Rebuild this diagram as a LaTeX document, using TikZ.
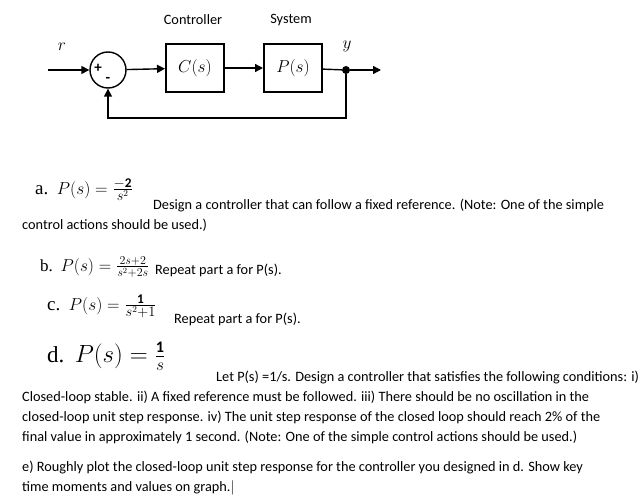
\documentclass[tikz,border=0pt]{standalone}
\usepackage{fontspec}
\setmainfont{Carlito}
\newfontfamily\serifeq{Liberation Serif}
\usetikzlibrary{arrows.meta}
\begin{document}
\begin{tikzpicture}[x=1pt,y=-1pt,
  blk/.style={draw,line width=2pt,minimum width=58pt,minimum height=48pt,inner sep=0pt,font=\fontsize{19}{19}\selectfont},
  sig/.style={line width=1.4pt,-{Triangle[length=8pt,width=8pt]}},
  body/.style={anchor=base west,inner sep=0pt,font=\fontsize{14.3}{14.3}\selectfont},
  eq/.style={anchor=base west,inner sep=0pt}]
\useasboundingbox (0,0) rectangle (643,503);
% block diagram
\node[draw,circle,line width=1.4pt,minimum size=36pt,inner sep=0pt] (sum) at (108,70) {};
\node[font=\fontsize{15}{15}\selectfont\bfseries] (plus) at (98,68) {+};
\node[font=\fontsize{15}{15}\selectfont\bfseries] (minus) at (108,80) {-};
\node[blk] (C) at (195,68) {$C(s)$};
\node[blk] (P) at (293,68) {$P(s)$};
\coordinate (in) at (48,70);
\node[circle,fill,inner sep=0pt,minimum size=8pt] (dot) at (346,70) {};
\coordinate (out) at (381,70);
\coordinate (fb1) at (346,118);
\coordinate (fb2) at (108,118);
\draw[sig] (in) -- (sum);
\draw[sig] (sum) -- (C);
\draw[sig] (C) -- (P);
\draw[line width=1.4pt] (P) -- (dot);
\draw[sig] (dot) -- (out);
\draw[sig] (dot) -- (fb1) -- (fb2) -- (sum);
\node[font=\fontsize{19}{19}\selectfont] (r) at (62,47) {$r$};
\node[font=\fontsize{19}{19}\selectfont] (y) at (347,46) {$y$};
\node[font=\fontsize{14.3}{14.3}\selectfont] (ct) at (193,20) {Controller};
\node[font=\fontsize{14.3}{14.3}\selectfont] (st) at (291,20) {System};
% text
\node[eq] (a) at (35,194) {\fontsize{19}{19}\selectfont {\serifeq a.}\ \ $P(s)=\frac{\mathbf{-2}}{s^2}$};
\node[body] (at) at (153,209) {Design a controller that can follow a fixed reference. (Note: One of the simple};
\node[body] (at2) at (22,229) {control actions should be used.)};
\node[eq] (b) at (40,271) {\fontsize{17}{17}\selectfont {\serifeq b.}\ \ $P(s)=\frac{2s+2}{s^2+2s}$};
\node[body] (bt) at (155,274) {Repeat part a for P(s).};
\node[eq] (c) at (47,310) {\fontsize{19}{19}\selectfont {\serifeq c.}\ \ $P(s)=\frac{\mathbf{1}}{s^2+1}$};
\node[body] (ct2) at (174,323) {Repeat part a for P(s).};
\node[eq] (d) at (47,362) {\fontsize{23}{23}\selectfont {\serifeq d.}\ \ $P(s)=\frac{\mathbf{1}}{s}$};
\node[body] (d1) at (216,381) {Let P(s) =1/s. Design a controller that satisfies the following conditions: i)};
\node[body] (d2) at (22,401) {Closed-loop stable. ii) A fixed reference must be followed. iii) There should be no oscillation in the};
\node[body] (d3) at (22,421) {closed-loop unit step response. iv) The unit step response of the closed loop should reach 2\% of the};
\node[body] (d4) at (22,441) {final value in approximately 1 second. (Note: One of the simple control actions should be used.)};
\node[body] (e1) at (22,471) {e) Roughly plot the closed-loop unit step response for the controller you designed in d. Show key};
\node[body] (e2) at (22,491) {time moments and values on graph.$|$};
\end{tikzpicture}
\end{document}
